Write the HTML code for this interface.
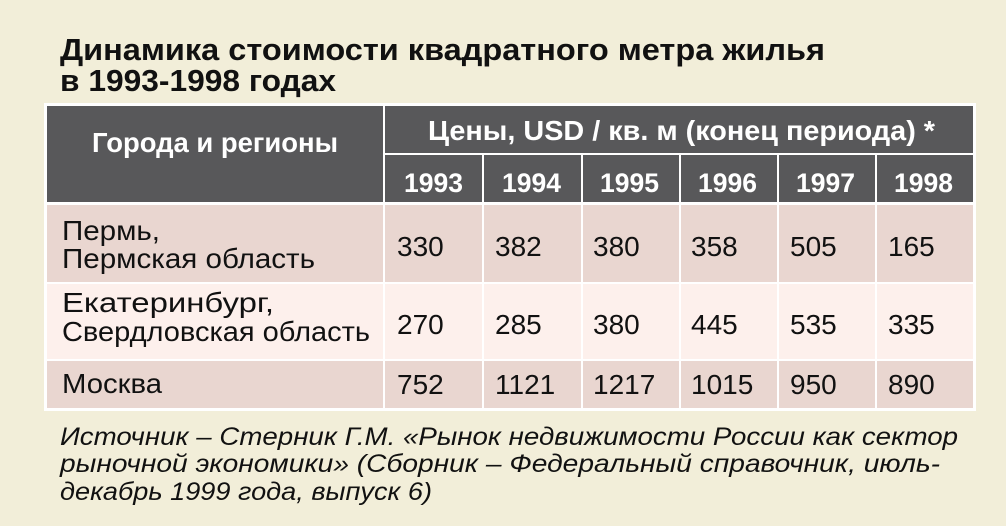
<!DOCTYPE html>
<html><head><meta charset="utf-8"><style>
html,body{margin:0;padding:0;background:#f2eed9;}
svg{display:block}
text{font-family:"Liberation Sans","DejaVu Sans",sans-serif;}
</style></head><body>
<svg width="1006" height="526" viewBox="0 0 1006 526" xmlns="http://www.w3.org/2000/svg">
<rect width="1006" height="526" fill="#f2eed9"/>
<g font-weight="bold" font-size="31" fill="#111">
<text x="60" y="60" textLength="765" lengthAdjust="spacingAndGlyphs">Динамика стоимости квадратного метра жилья</text>
<text x="60" y="91" textLength="276" lengthAdjust="spacingAndGlyphs">в 1993-1998 годах</text>
</g>
<rect x="44" y="103" width="932" height="308" fill="#ffffff"/>
<rect x="47" y="106" width="336" height="96" fill="#58585a"/>
<rect x="385" y="106" width="588" height="47" fill="#58585a"/>
<g fill="#58585a">
<rect x="385" y="155" width="97" height="47"/>
<rect x="484" y="155" width="97" height="47"/>
<rect x="583" y="155" width="96" height="47"/>
<rect x="681" y="155" width="96" height="47"/>
<rect x="779" y="155" width="96" height="47"/>
<rect x="877" y="155" width="96" height="47"/>
</g>
<g fill="#e9d6d0">
<rect x="47" y="205" width="336" height="77"/>
<rect x="385" y="205" width="97" height="77"/><rect x="484" y="205" width="97" height="77"/><rect x="583" y="205" width="96" height="77"/><rect x="681" y="205" width="96" height="77"/><rect x="779" y="205" width="96" height="77"/><rect x="877" y="205" width="96" height="77"/>
<rect x="47" y="361" width="336" height="47"/>
<rect x="385" y="361" width="97" height="47"/><rect x="484" y="361" width="97" height="47"/><rect x="583" y="361" width="96" height="47"/><rect x="681" y="361" width="96" height="47"/><rect x="779" y="361" width="96" height="47"/><rect x="877" y="361" width="96" height="47"/>
</g>
<g fill="#fdf0ec">
<rect x="47" y="284" width="336" height="75"/>
<rect x="385" y="284" width="97" height="75"/><rect x="484" y="284" width="97" height="75"/><rect x="583" y="284" width="96" height="75"/><rect x="681" y="284" width="96" height="75"/><rect x="779" y="284" width="96" height="75"/><rect x="877" y="284" width="96" height="75"/>
</g>
<g fill="#ffffff" font-weight="bold" font-size="28">
<text x="92" y="152" textLength="246" lengthAdjust="spacingAndGlyphs">Города и регионы</text>
<text x="428" y="140" textLength="507" lengthAdjust="spacingAndGlyphs">Цены, USD / кв. м (конец периода) *</text>
<g font-size="27">
<text x="404" y="192" textLength="59" lengthAdjust="spacingAndGlyphs">1993</text>
<text x="502" y="192" textLength="59" lengthAdjust="spacingAndGlyphs">1994</text>
<text x="600" y="192" textLength="59" lengthAdjust="spacingAndGlyphs">1995</text>
<text x="698" y="192" textLength="59" lengthAdjust="spacingAndGlyphs">1996</text>
<text x="796" y="192" textLength="59" lengthAdjust="spacingAndGlyphs">1997</text>
<text x="894" y="192" textLength="59" lengthAdjust="spacingAndGlyphs">1998</text>
</g>
</g>
<g fill="#111" font-size="28">
<text x="62" y="240" textLength="98" lengthAdjust="spacingAndGlyphs">Пермь,</text>
<text x="62" y="268" textLength="253" lengthAdjust="spacingAndGlyphs">Пермская область</text>
<text x="62" y="312" textLength="212" lengthAdjust="spacingAndGlyphs">Екатеринбург,</text>
<text x="62" y="341" textLength="308" lengthAdjust="spacingAndGlyphs">Свердловская область</text>
<text x="62" y="393" textLength="100" lengthAdjust="spacingAndGlyphs">Москва</text>
<g font-size="28">
<text x="397" y="256">330</text><text x="495" y="256">382</text><text x="593" y="256">380</text><text x="691" y="256">358</text><text x="790" y="256">505</text><text x="888" y="256">165</text>
<text x="397" y="334">270</text><text x="495" y="334">285</text><text x="593" y="334">380</text><text x="691" y="334">445</text><text x="790" y="334">535</text><text x="888" y="334">335</text>
<text x="397" y="394">752</text><text x="495" y="394">1121</text><text x="593" y="394">1217</text><text x="691" y="394">1015</text><text x="790" y="394">950</text><text x="888" y="394">890</text>
</g>
</g>
<g fill="#111" font-style="italic" font-size="25">
<text x="60" y="445" textLength="898" lengthAdjust="spacingAndGlyphs">Источник – Стерник Г.М. «Рынок недвижимости России как сектор</text>
<text x="60" y="472" textLength="880" lengthAdjust="spacingAndGlyphs">рыночной экономики» (Сборник – Федеральный справочник, июль-</text>
<text x="60" y="500" textLength="372" lengthAdjust="spacingAndGlyphs">декабрь 1999 года, выпуск 6)</text>
</g>
</svg>
</body></html>
